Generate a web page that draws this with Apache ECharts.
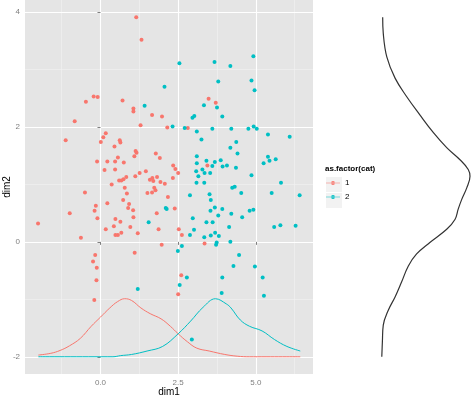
<!DOCTYPE html>
<html>
<head>
<meta charset="utf-8">
<script src="https://cdn.jsdelivr.net/npm/echarts@6/dist/echarts.min.js"></script>
<style>
  html, body { margin: 0; padding: 0; background: #fff; }
  #chart { width: 474px; height: 399px; }
</style>
</head>
<body>
<div id="chart"></div>
<script>
// axis ticks
const xTicks = [0, 2.5, 5];
const xTickLabels = ["0.0", "2.5", "5.0"];
const xMinor = [-1.25, 1.25, 3.75, 6.25];
const yTicks = [-2, 0, 2, 4];
const yTickLabels = ["-2", "0", "2", "4"];
const yMinor = [-1, 1, 3];

// cat 1 points
const cat1X = [1.15, 1.32, -0.22, -0.09, -0.47, 0.71, -0.83, 1.06, 1.06, 1.66, 1.98, 1.29, 2.15, 2.81, 3.48, 3.71,
  -1.12, 0.17, 0.09, 0.01, 0.62, 0.64, 0.45, 1.13, 1.16, 1.09, 1.78, 1.91, 0.56, -0.11, 0.22, 0.47, 0.75, 0.13,
  0.47, 0.83, 1.12, 1.26, 1.46, 2.34, 2.41, 2.50, 3.44, 1.59, 1.67, 1.70, 1.82, 1.93, 2.07, 2.33, 1.73, 1.77,
  1.51, 1.66, 2.17, 0.36, 0.60, 0.67, 0.74, 0.78, 0.85, -0.50, -2.01, -0.99, -0.63, -0.15, -0.19, -0.10, 0.22,
  0.17, 0.73, 0.92, 0.89, 0.48, 0.64, 0.43, 0.67, 0.48, 0.56, 0.96, 1.05, 1.06, 1.20, 1.81, 1.87, 2.39, 2.52,
  2.62, 1.97, 3.35, 1.10, 2.60, 2.50, -0.17, -0.24, -0.12, -0.13, -0.20];
const cat1Y = [3.91, 3.52, 2.53, 2.52, 2.44, 2.46, 2.10, 2.32, 2.27, 2.21, 2.18, 2.03, 1.99, 1.98, 2.49, 2.42,
  1.77, 1.89, 1.82, 1.74, 1.77, 1.73, 1.66, 1.58, 1.55, 1.49, 1.54, 1.46, 1.47, 1.40, 1.40, 1.40, 1.38, 1.25,
  1.26, 1.13, 1.14, 1.20, 1.23, 1.33, 1.27, 1.20, 1.33, 1.08, 1.11, 1.06, 1.13, 1.04, 1.01, 1.11, 0.94, 0.90,
  0.85, 0.86, 0.78, 1.00, 1.07, 1.07, 1.09, 0.94, 0.84, 0.86, 0.32, 0.50, 0.07, 0.63, 0.54, 0.41, 0.67,
  0.22, 0.73, 0.66, 0.59, 0.40, 0.35, 0.27, 0.16, 0.12, 0.12, 0.26, 0.55, 0.43, 0.15, 0.50, 0.22, 0.58, 0.22,
  0.12, -0.05, -0.03, -0.19, -0.58, -0.91, -0.23, -0.34, -0.45, -0.67, -1.01];

// cat 2 points
const cat2X = [2.54, 3.67, 2.06, 3.79, 4.18, 4.92, 4.86, 4.96, 1.42, 3.33, 3.75, 2.96, 3.02, 3.92, 2.32, 2.71,
  3.60, 3.10, 3.25, 4.21, 4.76, 4.93, 5.03, 5.39, 6.09, 4.37, 4.18, 4.41, 3.10, 3.10, 3.41, 3.68, 3.87, 4.07,
  3.60, 3.93, 4.36, 5.25, 5.39, 5.64, 5.44, 3.08, 3.28, 3.35, 3.53, 3.15, 4.86, 3.09, 3.34, 2.88, 3.51, 3.55,
  2.10, 2.13, 3.54, 3.68, 3.79, 3.92, 2.97, 3.41, 3.61, 1.55, 3.01, 2.88, 3.34, 3.55, 3.69, 3.81, 4.14, 4.18,
  3.74, 3.72, 2.62, 2.49, 2.78, 2.55, 3.92, 3.90, 1.20, 2.94, 4.24, 4.32, 5.81, 4.53, 5.51, 6.41, 4.21, 4.80,
  4.92, 4.56, 5.59, 5.79, 6.28, 4.46, 4.28, 4.97, 5.22, 5.26];
const cat2Y = [3.11, 3.13, 2.70, 2.79, 3.06, 3.23, 2.81, 2.64, 2.37, 2.38, 2.34, 2.16, 2.19, 2.18, 2.01, 1.98,
  1.97, 1.92, 1.78, 1.97, 1.97, 2.01, 1.97, 1.87, 1.83, 1.74, 1.64, 1.54, 1.49, 1.37, 1.41, 1.39, 1.42, 1.33,
  1.32, 1.31, 1.29, 1.37, 1.48, 1.44, 1.41, 1.23, 1.26, 1.20, 1.20, 1.14, 1.16, 1.03, 1.03, 0.81, 0.83, 0.73,
  0.59, 0.57, 0.54, 0.60, 0.46, 0.57, 0.41, 0.34, 0.34, 0.34, 0.21, 0.12, 0.08, 0.11, 0.16, 0.10, 0.26, 0.00,
  -0.01, -0.05, -0.07, -0.16, -0.62, -0.75, -0.62, -0.89, -0.82, -1.70, 0.94, 0.96, 1.03, 0.85, 0.85, 0.81, 0.49, 0.54,
  0.56, 0.43, 0.26, 0.29, 0.28, -0.23, -0.42, -0.43, -0.62, -0.94];

// dim1 densities, drawn on the panel from y = -2
const dens1X = [-2.0, -1.6, -1.3, -1.0, -0.65, -0.3, 0.0, 0.3, 0.55, 0.78, 1.0, 1.3, 1.6, 1.95, 2.25, 2.5, 2.8, 3.1, 3.5, 4.0, 4.4, 4.8, 6.43];
const dens1Y = [-1.97, -1.94, -1.89, -1.81, -1.68, -1.47, -1.31, -1.15, -1.04, -0.99, -1.02, -1.15, -1.25, -1.34, -1.47, -1.60, -1.74, -1.85, -1.90, -1.96, -1.99, -2.0, -2.0];
const dens2X = [-2.0, 0.4, 0.65, 1.0, 1.5, 2.0, 2.5, 2.9, 3.3, 3.7, 4.05, 4.2, 4.5, 4.8, 5.2, 5.6, 6.0, 6.43];
const dens2Y = [-2.0, -2.0, -1.98, -1.96, -1.90, -1.82, -1.60, -1.38, -1.14, -0.99, -1.08, -1.15, -1.36, -1.47, -1.55, -1.70, -1.82, -1.90];

// dim2 density (side plot)
const densDim2 = [0.004, 0.006, 0.018, 0.046, 0.085, 0.13, 0.176, 0.221, 0.266, 0.294, 0.30, 0.289, 0.272, 0.26, 0.249, 0.221, 0.164, 0.119, 0.091, 0.068, 0.046, 0.023, 0.006, 0.003, 0.001];
const densDim2Y = [3.91, 3.63, 3.22, 2.85, 2.53, 2.21, 1.90, 1.64, 1.43, 1.26, 1.14, 0.94, 0.74, 0.57, 0.39, 0.22, -0.01, -0.21, -0.42, -0.70, -0.96, -1.19, -1.45, -1.74, -2.00];

const zip = (a, b) => a.map((v, i) => [v, b[i]]);
const red = "#F8766D", teal = "#00BFC4";
const grey50 = "#7F7F7F";

const chart = echarts.init(document.getElementById("chart"));

const minorAxis = (vals, extra) => Object.assign({
  type: "value",
  gridIndex: 0,
  z: 0,
  axisLine: { show: false },
  axisTick: { show: false, customValues: vals },
  axisLabel: { show: false, customValues: vals },
  splitLine: { show: true, lineStyle: { color: "#F2F2F2", width: 0.6 } },
}, extra);

const option = {
  animation: false,
  textStyle: { fontFamily: "Liberation Sans, Arial, sans-serif" },
  title: {
    text: "as.factor(cat)",
    left: 325,
    top: 165,
    padding: 0,
    textStyle: { fontSize: 8, fontWeight: "bold", color: "#000" },
  },
  legend: {
    orient: "vertical",
    left: 326,
    top: 179,
    padding: 0,
    itemWidth: 14,
    itemHeight: 4,
    itemGap: 6,
    icon: "path://M0,2.2H14V2.8H0Z M5,2.5a2,2 0 1,0 4,0a2,2 0 1,0 -4,0Z",
    textStyle: { fontSize: 8, color: "#000", padding: [0, 0, 0, 0] },
    data: ["1", "2"],
  },
  graphic: [
    { type: "rect", left: 325, top: 176, shape: { width: 17, height: 16 }, style: { fill: "#F2F2F2", stroke: "#fff" }, z: -1 },
    { type: "rect", left: 325, top: 192, shape: { width: 17, height: 16 }, style: { fill: "#F2F2F2", stroke: "#fff" }, z: -1 },
  ],
  grid: [
    { left: 25, right: 161, top: 0, bottom: 25, outerBoundsMode: "none", show: true, backgroundColor: "#E5E5E5", borderWidth: 0 },
    { left: 381.5, right: 4, top: 0, bottom: 25, outerBoundsMode: "none" },
  ],
  xAxis: [
    minorAxis(xMinor, { min: -2.43, max: 6.84, position: "top" }),
    {
      type: "value",
      gridIndex: 0,
      min: -2.43,
      max: 6.84,
      z: 1,
      position: "bottom",
      axisLine: { show: false },
      axisTick: { show: true, customValues: xTicks, length: 3, lineStyle: { color: grey50 } },
      axisLabel: {
        customValues: xTicks,
        formatter: (v) => xTickLabels[xTicks.indexOf(v)],
        color: grey50,
        fontSize: 8,
        margin: 5,
      },
      splitLine: { show: true, lineStyle: { color: "#fff", width: 1.1 } },
      name: "dim1",
      nameLocation: "middle",
      nameGap: 13,
      nameMoveOverlap: false,
      nameTextStyle: { color: "#000", fontSize: 10 },
    },
    { type: "value", gridIndex: 1, min: 0, max: 0.30, show: false },
  ],
  yAxis: [
    minorAxis(yMinor, { min: -2.30, max: 4.21, position: "right" }),
    {
      type: "value",
      gridIndex: 0,
      min: -2.30,
      max: 4.21,
      z: 1,
      position: "left",
      axisLine: { show: false },
      axisTick: { show: true, customValues: yTicks, length: 3, lineStyle: { color: grey50 } },
      axisLabel: {
        customValues: yTicks,
        formatter: (v) => yTickLabels[yTicks.indexOf(v)],
        color: grey50,
        fontSize: 8,
        margin: 5,
      },
      splitLine: { show: true, lineStyle: { color: "#fff", width: 1.1 } },
      name: "dim2",
      nameLocation: "middle",
      nameGap: 13,
      nameMoveOverlap: false,
      nameTextStyle: { color: "#000", fontSize: 10 },
    },
    { type: "value", gridIndex: 1, min: -2.30, max: 4.21, show: false },
  ],
  series: [
    {
      name: "1", type: "scatter", xAxisIndex: 1, yAxisIndex: 1,
      symbolSize: 4, itemStyle: { color: red, opacity: 1 },
      data: zip(cat1X, cat1Y),
    },
    {
      name: "2", type: "scatter", xAxisIndex: 1, yAxisIndex: 1,
      symbolSize: 4, itemStyle: { color: teal, opacity: 1 },
      data: zip(cat2X, cat2Y),
    },
    {
      name: "dens1", type: "line", xAxisIndex: 1, yAxisIndex: 1, smooth: 0.4,
      showSymbol: false, lineStyle: { color: red, width: 1 }, itemStyle: { color: red },
      data: zip(dens1X, dens1Y),
    },
    {
      name: "dens2", type: "line", xAxisIndex: 1, yAxisIndex: 1, smooth: 0.4,
      showSymbol: false, lineStyle: { color: teal, width: 1 }, itemStyle: { color: teal },
      data: zip(dens2X, dens2Y),
    },
    {
      name: "densDim2", type: "line", xAxisIndex: 2, yAxisIndex: 2, smooth: 0.4,
      showSymbol: false, lineStyle: { color: "#333", width: 1.2 }, itemStyle: { color: "#333" },
      data: zip(densDim2, densDim2Y),
    },
  ],
};

chart.setOption(option);
</script>
</body>
</html>
